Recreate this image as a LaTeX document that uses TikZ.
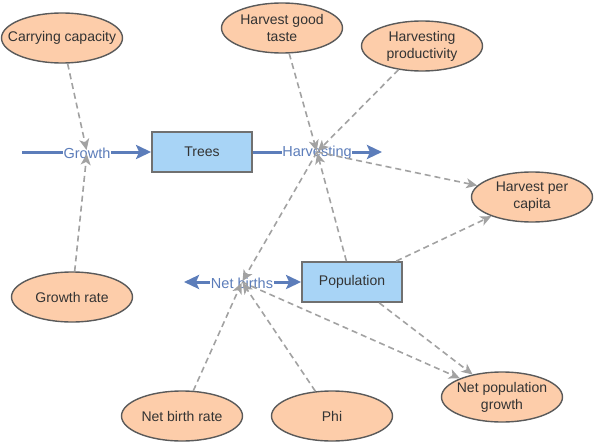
\documentclass[tikz,border=0pt]{standalone}
\usepackage{fontspec}
\setmainfont{Liberation Sans}
\usetikzlibrary{arrows.meta,shapes.geometric}
\definecolor{peach}{HTML}{FDCDAA}
\definecolor{ellbd}{HTML}{5A5A5A}
\definecolor{stockfill}{HTML}{A8D4F6}
\definecolor{stockbd}{HTML}{707070}
\definecolor{flowc}{HTML}{5C7DBA}
\definecolor{linkc}{HTML}{A2A2A2}
\definecolor{txtc}{HTML}{333333}
\tikzset{
  aux/.style={ellipse, draw=ellbd, line width=1.4pt, fill=peach, minimum width=121pt, minimum height=50pt, inner xsep=-16pt, inner ysep=-10pt, align=center, text=txtc, font=\fontsize{14}{17}\selectfont},
  stock/.style={rectangle, draw=stockbd, line width=1.8pt, fill=stockfill, minimum width=100pt, minimum height=40pt, inner sep=0pt, text=txtc, font=\fontsize{14}{17}\selectfont},
  flow/.style={draw=flowc, line width=3pt},
  flowtip/.style={-{Stealth[length=15pt,width=14pt,inset=3pt]}},
  flowlbl/.style={fill=white, inner sep=0.5pt, text=flowc, font=\fontsize{14.5}{17}\selectfont},
  link/.style={draw=linkc, line width=1.6pt, dash pattern=on 6pt off 4pt, -{Stealth[length=11pt,width=10pt,inset=3pt]}},
}
\begin{document}
\begin{tikzpicture}[x=1pt,y=-1pt]
\useasboundingbox (0,0) rectangle (594,444);
% stocks
\node[stock] (trees) at (202,152) {Trees};
\node[stock] (pop) at (352,282) {Population};
% auxiliaries
\node[aux] (cc) at (62,38) {Carrying capacity};
\node[aux] (hgt) at (282,28) {Harvest good\\taste};
\node[aux] (hp) at (422,46) {Harvesting\\productivity};
\node[aux] (hpc) at (532,197) {Harvest per\\capita};
\node[aux] (gr) at (72,297) {Growth rate};
\node[aux] (nbr) at (182,416) {Net birth rate};
\node[aux] (phi) at (332,416) {Phi};
\node[aux] (npg) at (502,397) {Net population\\growth};
% flow end points and valves
\coordinate (gsrc) at (22,152);
\coordinate (hsink) at (382,152);
\coordinate (nsink) at (184,282);
\coordinate (gv) at (87,152);
\coordinate (hv) at (317,152);
\coordinate (nv) at (242,282);
% flows
\draw[flow,flowtip] (gsrc) -- (trees.west);
\draw[flow,flowtip] (trees.east) -- (hsink);
\draw[flow,{Stealth[length=15pt,width=14pt,inset=3pt]}-{Stealth[length=15pt,width=14pt,inset=3pt]}] (nsink) -- (pop.west);
\node[flowlbl] (gl) at (87,153) {Growth};
\node[flowlbl] (hl) at (317,153) {Harvesting};
\node[flowlbl] (nl) at (242,283) {Net births};
% links
\draw[link, shorten >=2pt] (cc) -- (gv);
\draw[link, shorten >=2pt] (gr) -- (gv);
\draw[link, shorten >=1pt] (hgt) -- (hv);
\draw[link, shorten >=1pt] (hp) -- (hv);
\draw[link, shorten >=1pt] (pop) -- (hv);
\draw[link] (hv) -- (hpc);
\draw[link] (pop) -- (hpc);
\draw[link, shorten >=1pt] (hv) -- (nv);
\draw[link, shorten >=1pt] (nbr) -- (nv);
\draw[link, shorten >=1pt] (phi) -- (nv);
\draw[link] (nv) -- (npg);
\draw[link] (pop) -- (npg);
\end{tikzpicture}
\end{document}
